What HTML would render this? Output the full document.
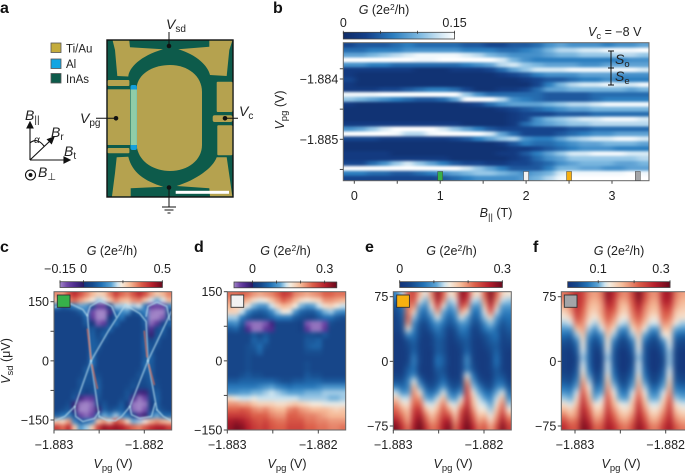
<!DOCTYPE html>
<html lang="en">
<head>
<meta charset="utf-8">
<title>Conductance maps</title>
<style>
html,body{margin:0;padding:0;background:#fff;width:685px;height:473px;overflow:hidden}
svg{display:block}
text{font-family:"Liberation Sans",sans-serif;fill:#222;font-size:12.5px}
.pl{font-weight:bold;font-size:16px;fill:#111}
.i{font-style:italic}
</style>
</head>
<body>
<svg id="fig" xmlns="http://www.w3.org/2000/svg" width="685" height="473" viewBox="0 0 685 473">
<defs>
<filter id="blurHeat" filterUnits="userSpaceOnUse" x="-20" y="-20" width="725" height="513" color-interpolation-filters="sRGB"><feGaussianBlur stdDeviation="2.9"/></filter>
<filter id="blurHeatC" filterUnits="userSpaceOnUse" x="-20" y="-20" width="725" height="513" color-interpolation-filters="sRGB"><feGaussianBlur stdDeviation="2.1"/></filter>
<filter id="blurBand" filterUnits="userSpaceOnUse" x="-20" y="-20" width="725" height="513" color-interpolation-filters="sRGB"><feGaussianBlur stdDeviation="3.5 1.4"/></filter>
<filter id="blurLine" filterUnits="userSpaceOnUse" x="-20" y="-20" width="725" height="513" color-interpolation-filters="sRGB"><feGaussianBlur stdDeviation="0.7"/></filter>
</defs>

<text class="pl" x="0" y="13">a</text>
<text class="pl" x="273" y="13">b</text>
<text class="pl" x="0" y="252">c</text>
<text class="pl" x="194" y="252">d</text>
<text class="pl" x="365" y="252">e</text>
<text class="pl" x="533" y="252">f</text>

<!-- panel a: device -->
<g>
<rect x="107" y="40" width="126" height="157" fill="#0d5b4b" stroke="#111" stroke-width="1.4"/>
<g fill="#b5a24f">
<path d="M112.700,40.700 L129.300,40.700 L130,47.300 L163,49.300 C140,56 129,68 128.300,76.500 L117.300,76 L115,50 Z"/>
<path d="M232.300,40.700 L209.300,40.700 L209.300,46.700 L178.300,49.300 C197,55 208,66 210,75 L226.700,76 L229.300,50 Z"/>
<path d="M116.700,157.300 L128.300,156.700 C132,172 144,181 163.300,186.700 L130.700,188.300 L130.700,196.300 L112,196.300 L115,173 Z"/>
<path d="M232.300,196.300 L210,196.300 L209.300,188.300 L176.700,186 C196,180 213,168 216.700,157.300 L226.700,157.300 L230,180 Z"/>
<path d="M137,85 C140,72 155,65 170,65 C188,65 202,76 202,92 L202,145 C202,160 188,171 170,171 C155,171 140,163 137,148 Z"/>
<rect x="107.700" y="80" width="21.700" height="6" rx="1"/>
<rect x="107.700" y="148" width="21.700" height="5.300" rx="1"/>
<rect x="107.700" y="89.300" width="22.300" height="55.700"/>
<rect x="216.700" y="81.700" width="15.700" height="30.300" rx="1"/>
<rect x="217.300" y="125.300" width="15" height="30" rx="1"/>
<rect x="212.700" y="115.300" width="19.700" height="6.700" rx="2"/>
</g>
<rect x="130.500" y="85" width="6.400" height="65" rx="2" fill="#14a0dc"/>
<rect x="130.500" y="89.500" width="6.400" height="55.500" fill="#8fcda8"/>
<rect x="175.700" y="190.800" width="53.300" height="3" fill="#fff"/>
<g stroke="#111" stroke-width="1" fill="none">
<path d="M169,32 V46 M169,187 V207 M162,207 H176 M164.500,210 H173.500 M167.500,213 H170.500 M96,118.300 H116 M225,118.300 H238"/>
</g>
<circle cx="169" cy="46" r="2.300" fill="#111"/>
<circle cx="169" cy="187.500" r="2.300" fill="#111"/>
<circle cx="116" cy="118.300" r="2.300" fill="#111"/>
<circle cx="225" cy="118.300" r="2.300" fill="#111"/>
<text x="166" y="29" font-size="14"><tspan class="i" style="font-size:14px">V</tspan><tspan dy="3" style="font-size:10px">sd</tspan></text>
<text x="80" y="123"><tspan class="i" style="font-size:14px">V</tspan><tspan dy="3" style="font-size:10px">pg</tspan></text>
<text x="239" y="116"><tspan class="i" style="font-size:14px">V</tspan><tspan dy="3" style="font-size:10px">c</tspan></text>
</g>
<g>
<rect x="51" y="43" width="10" height="9.500" fill="#c4ac3c" stroke="#555" stroke-width=".8"/>
<rect x="51" y="59" width="10" height="9.500" fill="#12a5e2" stroke="#555" stroke-width=".8"/>
<rect x="51" y="73.500" width="10" height="9.500" fill="#0d5b4b" stroke="#555" stroke-width=".8"/>
<text x="66" y="52.500" style="font-size:11.500px">Ti/Au</text>
<text x="66" y="68" style="font-size:11.500px">Al</text>
<text x="66" y="83" style="font-size:11.500px">InAs</text>
</g>
<g stroke="#111" stroke-width="1.100" fill="none">
<path d="M30,160 V127 M30,160 H65 M30,160 L51,140 M30,143 Q37,137 44,146"/>
<path d="M30,122 L27,128 H33 Z M70,160 L64,157 V163 Z M54,137 L47.500,139.500 L51.500,143.500 Z" fill="#111"/>
<circle cx="30.500" cy="175" r="5" stroke-width="1.100"/>
<circle cx="30.500" cy="175" r="1.400" fill="#111"/>
</g>
<text x="25" y="120"><tspan class="i" style="font-size:14px">B</tspan><tspan dy="3" style="font-size:10px">||</tspan></text>
<text x="51" y="137"><tspan class="i" style="font-size:14px">B</tspan><tspan dy="3" style="font-size:10px">r</tspan></text>
<text x="64" y="156"><tspan class="i" style="font-size:14px">B</tspan><tspan dy="3" style="font-size:10px">t</tspan></text>
<text x="38" y="177"><tspan class="i" style="font-size:14px">B</tspan><tspan dy="3" style="font-size:10px">⊥</tspan></text>
<text x="34" y="143" class="i" style="font-size:10px">α</text>

<!-- titles -->
<text x="384" y="14" text-anchor="middle"><tspan class="i">G</tspan> (2e<tspan dy="-4" style="font-size:8.500px">2</tspan><tspan dy="4">/h)</tspan></text>
<text x="112" y="255" text-anchor="middle"><tspan class="i">G</tspan> (2e<tspan dy="-4" style="font-size:8.500px">2</tspan><tspan dy="4">/h)</tspan></text>
<text x="285.500" y="255" text-anchor="middle"><tspan class="i">G</tspan> (2e<tspan dy="-4" style="font-size:8.500px">2</tspan><tspan dy="4">/h)</tspan></text>
<text x="451.500" y="255" text-anchor="middle"><tspan class="i">G</tspan> (2e<tspan dy="-4" style="font-size:8.500px">2</tspan><tspan dy="4">/h)</tspan></text>
<text x="619" y="255" text-anchor="middle"><tspan class="i">G</tspan> (2e<tspan dy="-4" style="font-size:8.500px">2</tspan><tspan dy="4">/h)</tspan></text>

<text x="588" y="36"><tspan class="i">V</tspan><tspan dy="3" style="font-size:9.500px">c</tspan><tspan dy="-3"> = −8 V</tspan></text>
<text x="496" y="217" text-anchor="middle"><tspan class="i">B</tspan><tspan dy="3" style="font-size:9.500px">||</tspan><tspan dy="-3"> (T)</tspan></text>
<text transform="translate(284,110) rotate(-90)" text-anchor="middle"><tspan class="i">V</tspan><tspan dy="3" style="font-size:9.500px">pg</tspan><tspan dy="-3"> (V)</tspan></text>
<text transform="translate(10,361) rotate(-90)" text-anchor="middle"><tspan class="i">V</tspan><tspan dy="3" style="font-size:9.500px">sd</tspan><tspan dy="-3"> (μV)</tspan></text>
<text x="113" y="468" text-anchor="middle"><tspan class="i">V</tspan><tspan dy="3" style="font-size:9.500px">pg</tspan><tspan dy="-3"> (V)</tspan></text>
<text x="287" y="468" text-anchor="middle"><tspan class="i">V</tspan><tspan dy="3" style="font-size:9.500px">pg</tspan><tspan dy="-3"> (V)</tspan></text>
<text x="453" y="468" text-anchor="middle"><tspan class="i">V</tspan><tspan dy="3" style="font-size:9.500px">pg</tspan><tspan dy="-3"> (V)</tspan></text>
<text x="621" y="468" text-anchor="middle"><tspan class="i">V</tspan><tspan dy="3" style="font-size:9.500px">pg</tspan><tspan dy="-3"> (V)</tspan></text>
<g id="layer"></g>
</svg>
<script>
// ---- data (G in units of 0.01 x 2e^2/h) ----
const gridB = [
[3,4,4,4,5,6,5,5,5,5,4,4,3,3,4,4,5,7,8,7,7,7,6,7,7,8],
[5,5,6,6,6,7,7,7,7,7,6,6,6,5,5,6,7,9,11,11,12,12,13,13,13,14],
[8,8,9,10,11,12,13,13,13,13,12,11,9,8,7,7,7,8,9,9,10,10,10,11,11,10],
[15,15,15,15,15,14,13,13,14,14,15,15,14,12,9,7,6,6,6,6,6,6,6,6,7,7],
[7,7,6,6,5,5,5,5,5,5,6,7,8,11,12,10,9,8,8,8,7,7,8,8,8,8],
[2,2,2,2,2,2,1,1,1,2,2,2,3,5,8,10,12,12,12,13,13,13,13,13,13,12],
[2,1,1,1,1,1,1,1,1,1,1,1,1,2,3,4,6,7,7,7,8,8,8,7,7,7],
[3,1,1,1,1,1,1,1,1,1,1,1,1,1,1,2,3,4,4,5,6,6,7,6,6,6],
[2,1,1,1,1,1,1,1,1,1,1,1,1,1,1,1,3,6,9,11,12,12,13,12,12,13],
[2,2,2,3,3,4,5,6,6,5,3,1,1,2,2,3,5,8,8,9,9,9,9,9,8,9],
[13,13,13,14,14,14,15,15,15,14,10,7,5,5,5,5,5,4,4,4,4,5,5,5,5,5],
[10,9,8,7,6,5,4,4,5,8,14,15,14,11,7,6,5,4,4,4,4,5,6,6,6,6],
[2,1,1,1,1,1,1,1,1,1,2,3,5,7,8,8,8,9,10,11,11,12,13,13,13,13],
[1,1,1,1,1,1,1,1,1,1,1,1,1,2,3,4,5,6,7,8,8,9,9,9,9,9],
[1,1,1,1,1,1,1,1,1,1,1,1,1,1,2,3,3,3,4,4,4,5,5,5,5,5],
[1,1,1,1,1,1,1,1,1,1,1,1,1,1,2,3,7,9,10,11,12,12,13,13,13,12],
[2,2,2,2,2,2,2,2,2,2,1,1,1,1,2,5,7,8,9,10,10,11,11,11,11,11],
[7,8,10,12,14,15,15,14,12,10,8,6,4,3,3,3,3,3,3,4,4,5,5,5,5,5],
[15,15,15,14,13,11,11,13,15,15,15,14,12,8,5,3,3,3,4,5,6,7,7,8,8,8],
[3,3,3,2,2,2,2,2,2,3,4,6,8,10,11,7,6,6,8,10,11,12,12,13,13,12],
[1,1,1,1,1,1,1,1,1,1,1,1,1,2,4,6,5,5,6,7,8,8,9,9,9,8],
[1,1,1,1,1,1,1,1,1,1,1,1,1,1,2,2,3,4,5,6,7,7,7,6,6,6],
[2,2,2,2,1,1,1,1,1,1,1,1,1,2,2,4,6,8,10,12,12,13,13,13,12,12],
[2,2,2,2,2,2,2,2,2,1,1,1,1,1,2,3,5,7,8,10,10,10,10,10,10,11],
[3,3,5,7,10,12,10,8,6,4,3,3,2,2,3,3,4,5,7,8,9,9,9,8,8,9],
[14,15,15,15,15,14,14,15,15,14,12,10,8,6,4,4,4,6,9,9,8,8,7,7,8,8],
[6,6,5,5,4,4,5,6,7,8,9,10,10,9,8,7,8,9,12,13,13,13,13,13,14,13],
[3,3,3,3,3,3,3,3,4,5,6,7,7,7,7,8,9,11,13,14,14,14,14,14,14,14]
];
const gridC = [
[33,32,38,42,38,34,30,27,28,34,40,36,34,38,42,38,32,28,30,34],
[29,30,33,36,32,28,24,20,22,28,34,30,29,33,34,28,22,18,22,30],
[14,8,10,14,18,16,6,-8,-8,4,20,20,22,20,22,12,-8,-10,-8,14],
[4,4,4,5,8,14,-10,-15,-15,-4,10,14,16,6,10,14,-14,-15,-15,2],
[4,4,4,4,4,10,-8,-15,-15,0,8,12,4,4,4,10,-15,-15,-12,6],
[4,4,4,4,4,8,0,-12,-8,6,11,4,4,4,4,8,-13,-8,4,9],
[4,4,4,4,4,4,8,4,6,10,4,4,4,4,4,7,-6,5,9,4],
[4,4,4,4,4,4,9,5,9,4,4,4,4,4,4,8,-2,7,7,4],
[4,4,4,4,4,4,9,7,6,4,4,4,4,4,4,9,5,8,4,4],
[4,4,4,4,4,4,9,8,4,4,4,4,4,4,4,9,7,6,4,4],
[4,4,4,4,4,4,10,5,4,4,4,4,4,4,4,8,8,4,4,4],
[4,4,4,4,4,4,12,4,4,4,4,4,4,4,4,8,9,4,4,4],
[4,4,4,4,4,5,12,4,4,4,4,4,4,4,4,10,8,4,4,4],
[4,4,4,4,4,8,8,4,4,4,4,4,4,4,5,9,8,4,4,4],
[4,4,4,4,5,7,7,6,4,4,4,4,4,4,7,7,8,4,4,4],
[4,4,4,4,7,7,7,8,4,4,4,4,4,6,6,6,8,5,4,4],
[4,4,4,4,7,6,6,9,4,4,4,4,5,7,5,5,7,6,4,4],
[4,4,4,6,7,3,6,8,4,4,4,4,7,4,-4,-3,6,8,4,4],
[4,4,4,8,-4,-10,-8,7,4,4,4,5,7,-5,-14,-10,4,9,4,4],
[4,4,6,-2,-14,-15,-13,3,7,4,4,8,1,-14,-15,-14,1,8,4,4],
[4,6,8,-3,-15,-15,-12,-2,9,6,8,9,4,-13,-15,-11,4,9,6,4],
[9,12,14,6,-10,-13,-9,9,18,14,20,14,12,2,-6,-2,12,18,10,10],
[28,26,32,14,8,9,14,28,32,27,38,34,26,18,20,24,30,33,30,28],
[40,36,42,28,16,20,28,40,46,44,46,44,40,36,34,38,42,44,44,40]
];
const gridD = [
[24,24,25,24,22,21,22,23,25,28,27,23,22,21,22,23,25,25,24,24],
[22,21,22,20,17,15,16,19,22,25,23,20,17,16,17,18,22,22,21,20],
[20,18,18,15,12,10,10,14,18,20,19,16,12,10,11,14,17,18,16,14],
[18,18,14,9,6,5,6,9,13,16,15,10,6,5,5,8,12,13,10,9],
[13,13,8,5,3,3,4,6,8,8,8,5,4,3,3,5,7,7,5,4],
[9,10,5,-6,-7,-7,-6,-2,3,3,3,3,2,-6,-7,-7,-5,4,3,3],
[5,6,3,-3,-7,-7,-4,-3,3,3,3,3,2,-4,-7,-7,-4,3,3,3],
[3,3,3,3,5,3,5,3,3,3,3,3,3,4,4,3,5,3,3,3],
[3,3,3,3,6,5,6,3,3,3,3,3,3,5,5,6,3,3,3,3],
[3,3,3,4,5,7,4,3,3,3,3,3,3,5,6,6,3,3,3,3],
[3,3,3,4,4,6,3,3,3,3,3,3,3,4,4,4,3,3,3,3],
[3,3,3,4,3,3,3,3,3,3,3,3,3,3,3,3,3,3,3,3],
[3,3,3,4,3,3,3,3,3,3,3,3,3,4,3,3,3,3,3,3],
[3,3,3,4,3,3,3,3,3,3,3,3,3,4,3,3,3,3,3,3],
[3,3,4,5,4,4,3,3,3,3,3,3,3,5,4,4,3,3,3,3],
[5,5,6,6,6,6,6,6,5,4,4,5,5,6,6,6,5,5,5,5],
[8,8,8,8,8,9,10,11,9,8,7,8,8,8,8,9,10,10,10,10],
[10,10,11,11,12,12,13,14,13,12,11,11,11,12,12,12,13,13,13,13],
[17,15,14,14,15,14,14,14,14,14,14,14,13,13,13,13,13,12,12,13],
[22,22,21,21,19,18,18,18,17,17,18,19,18,17,16,16,15,15,15,15],
[25,25,26,25,23,22,23,21,20,20,23,24,22,21,20,20,20,19,18,19],
[28,28,28,27,25,25,25,23,22,22,25,25,24,23,23,22,21,20,20,20],
[31,32,31,29,27,26,27,25,24,24,26,26,26,24,24,23,23,22,22,22],
[32,34,33,30,28,27,28,26,25,25,27,27,27,25,25,24,24,23,23,24]
];
const gridE = [
[8,13,22,24,18,14,20,28,22,15,17,28,26,17,15,22,29,22,16,15],
[6,10,22,23,15,11,18,27,20,12,14,27,24,13,12,20,28,20,13,12],
[4,7,21,20,11,8,15,24,15,9,12,24,20,10,9,17,26,17,10,10],
[3,6,21,16,8,6,12,19,11,7,10,19,15,7,7,14,22,13,8,8],
[2,5,22,12,6,5,9,14,9,5,8,14,11,5,6,12,16,10,6,7],
[2,4,20,9,4,3,7,10,7,4,6,10,9,4,4,9,12,8,4,6],
[2,3,15,8,3,2,5,8,5,2,4,8,7,2,3,7,9,6,3,5],
[1,2,9,7,3,1,3,6,5,1,3,6,6,2,2,4,6,7,2,4],
[1,1,4,6,2,1,2,5,4,1,2,4,5,2,1,3,5,6,2,3],
[1,1,3,5,2,1,2,5,4,1,1,3,5,2,1,2,4,5,2,2],
[1,1,2,6,2,1,1,5,4,1,1,2,6,2,1,1,3,6,2,1],
[1,1,2,8,2,1,1,7,5,1,1,2,9,2,1,1,2,7,2,1],
[1,1,3,8,2,1,1,7,5,1,1,2,9,3,1,1,2,7,2,1],
[1,1,5,7,1,1,1,5,4,1,1,2,8,4,1,1,2,5,2,1],
[2,2,6,9,3,1,1,4,5,1,1,2,14,7,2,1,1,5,4,1],
[4,4,8,14,7,2,2,4,7,3,2,3,19,10,4,2,2,6,6,2],
[8,6,8,18,11,5,3,6,10,5,3,6,22,12,8,4,3,8,9,4],
[13,9,10,20,15,8,6,9,14,8,6,10,24,15,11,7,6,11,14,6],
[17,13,13,21,19,11,9,13,18,11,9,14,25,17,13,10,8,13,18,9],
[20,16,15,22,22,14,13,16,21,15,13,18,26,18,14,13,10,15,21,12],
[22,19,17,24,25,18,15,18,23,19,15,22,27,20,15,15,12,17,23,15],
[24,21,18,25,27,21,17,20,24,23,17,24,28,22,17,18,14,19,25,19],
[27,23,19,26,29,23,19,21,26,27,19,25,29,24,19,21,16,21,27,22],
[29,25,21,27,30,25,21,22,27,29,21,26,30,26,21,23,19,23,29,24]
];
const gridF = [
[20,22,25,23,19,18,20,28,25,20,19,23,29,23,19,19,26,27,20,18],
[19,21,25,23,18,17,19,27,24,18,18,22,28,22,18,18,26,26,19,17],
[17,19,25,22,17,16,18,25,23,17,16,21,26,20,17,17,24,24,18,16],
[15,18,24,21,16,15,18,23,21,16,15,20,24,19,16,16,22,22,16,15],
[13,15,23,20,15,13,17,22,19,14,13,19,22,18,14,14,21,20,15,14],
[11,12,20,19,13,11,15,20,17,12,11,17,20,16,12,12,19,18,13,11],
[9,9,16,18,11,8,12,18,14,9,8,14,18,13,9,9,16,16,10,9],
[7,6,11,16,9,6,9,16,11,6,6,11,16,10,6,6,13,14,7,6],
[5,4,8,14,7,4,7,14,8,4,4,8,14,7,4,4,9,13,5,4],
[4,3,6,13,6,3,5,13,6,3,3,6,13,5,3,3,6,12,4,3],
[3,2,5,12,6,2,4,12,5,2,2,5,12,5,2,2,5,11,3,2],
[3,2,4,11,6,2,3,11,5,2,2,4,11,5,2,2,4,11,3,2],
[3,2,4,12,6,2,3,12,5,2,2,4,12,5,2,2,4,11,3,2],
[3,2,5,13,7,2,4,12,6,2,2,5,12,6,2,2,5,12,3,2],
[4,3,6,15,9,3,5,14,7,3,3,6,14,7,3,3,6,13,4,3],
[5,4,8,18,11,4,6,16,9,4,4,8,16,9,4,4,8,15,5,4],
[7,6,10,20,13,6,8,18,11,6,5,10,18,11,6,6,10,17,7,6],
[9,8,12,22,15,8,10,20,13,8,7,12,20,13,8,8,12,19,9,8],
[11,10,14,24,17,10,12,22,15,10,9,14,22,15,10,10,14,21,11,10],
[14,12,16,25,19,13,14,23,17,13,12,16,24,17,12,12,16,23,14,12],
[17,15,18,26,21,15,16,24,19,15,14,17,25,19,14,14,18,24,16,14],
[20,17,19,27,23,17,18,25,21,17,16,19,26,21,16,16,20,25,18,16],
[23,20,21,28,25,19,20,26,23,19,18,21,27,23,18,18,22,26,20,18],
[25,22,22,29,27,21,22,27,25,21,20,23,28,25,20,20,24,27,22,20]
];
// charge-transition lines in panel c, [Vpg (V), Vsd (uV)]
const linesCBlue = [
[[-1.88263,117],[-1.88259,0]],
[[-1.88259,0],[-1.88250,-141]],
[[-1.88259,0],[-1.88240,75],[-1.88221,142]],
[[-1.88259,0],[-1.88277,-116]],
[[-1.88221,142],[-1.88205,120],[-1.88198,100],[-1.88196,0]],
[[-1.88196,0],[-1.88186,-124]],
[[-1.88196,0],[-1.88170,125]],
[[-1.88196,0],[-1.88216,-116]],
[[-1.88299,136],[-1.88282,145],[-1.88268,130],[-1.88263,114]],
[[-1.88277,-116],[-1.88288,-141],[-1.88299,-152]],
[[-1.88250,-141],[-1.88242,-150],[-1.88232,-152],[-1.88225,-141],[-1.88216,-116]],
[[-1.88186,-124],[-1.88179,-141],[-1.88170,-152]],
[[-1.88198,113],[-1.88196,138],[-1.88186,149],[-1.88175,138],[-1.88172,104]],
[[-1.88263,117],[-1.88260,138],[-1.88249,153],[-1.88236,138],[-1.88231,111]],
[[-1.88277,-116],[-1.88276,-141],[-1.88268,-154],[-1.88255,-146],[-1.88250,-129]],
[[-1.88216,-116],[-1.88214,-137],[-1.88205,-146],[-1.88192,-141],[-1.88188,-108]]
];
const linesCHot = [
[[-1.88263,80],[-1.88259,5]],
[[-1.88258,-10],[-1.88252,-70]],
[[-1.88200,75],[-1.88197,10]],
[[-1.88195,-10],[-1.88189,-60]]
];
const fieldTicks = [0,0.5,1,1.5,2,2.5,3];
const fieldLabels = ['0','','1','','2','','3'];
const gateTicksB = [-1.88383,-1.884,-1.8845,-1.885,-1.8855];
const gateLabelsB = ['','−1.884','','−1.885',''];
const markerFields = [1,2,2.5,3.3];
const markerColors = ['#37b04a','#f2f2f2','#f7b010','#a3a5a8'];
const vpgTicks = [-1.883,-1.8825,-1.882];
const vpgLabels = ['−1.883','','−1.882'];
const vsdTicksWide = [150,75,0,-75,-150];
const vsdLabelsWide = ['150','','0','','−150'];
const vsdTicksNarrow = [75,0,-75];
const vsdLabelsNarrow = ['75','0','−75'];
const cbTicksB = [0,0.05,0.1,0.15];
const cbLabelsB = ['0','','','0.15'];
const cbTicksC = [-0.15,0,0.25,0.5];
const cbLabelsC = ['−0.15','0','','0.5'];
const cbTicksD = [0,0.1,0.2,0.3];
const cbLabelsD = ['0','','','0.3'];
const cbTicksE = [0,0.1,0.2,0.3];
const cbLabelsE = ['0','','','0.3'];
const cbTicksF = [0.1,0.2,0.3];
const cbLabelsF = ['0.1','','0.3'];

// ---- helpers ----
const NS='http://www.w3.org/2000/svg';
const layer=document.getElementById('layer');
function mk(tag,attrs,parent){
  const e=document.createElementNS(NS,tag);
  for(const k in attrs)e.setAttribute(k,attrs[k]);
  (parent||layer).appendChild(e);
  return e;
}
function hex(c){return [parseInt(c.slice(1,3),16),parseInt(c.slice(3,5),16),parseInt(c.slice(5,7),16)];}
function ramp(stops,t){
  t=Math.max(0,Math.min(1,t));
  for(let i=1;i<stops.length;i++){
    if(t<=stops[i][0]){
      const a=stops[i-1],b=stops[i],f=(t-a[0])/(b[0]-a[0]);
      const A=hex(a[1]),B=hex(b[1]);
      return 'rgb('+A.map((v,j)=>Math.round(v+(B[j]-v)*f)).join(',')+')';
    }
  }
  return stops[stops.length-1][1];
}
const divergingStops=[[0,'#15347a'],[.12,'#174a8c'],[.25,'#2272b6'],[.38,'#5ba3d4'],[.47,'#cfe5f0'],[.52,'#f5ecdf'],[.62,'#f6bd9a'],[.75,'#dc5f4a'],[.88,'#b51f2c'],[1,'#6a0a1e']];
const purpleStops=[[0,'#2a1a62'],[.35,'#4b2a8a'],[.7,'#6f46a6'],[1,'#a286c8']];
const bandStops=[[0,'#0f2c68'],[.2,'#143f88'],[.45,'#2d7fc0'],[.7,'#84bde3'],[.88,'#d4e8f4'],[1,'#ffffff']];
function colorDiv(vmax,vmin,white){
  const v0=vmin>0?vmin:0;
  return g=>{
    if(g<0)return ramp(purpleStops,g/vmin);
    const t=g<white?0.5*(g-v0)/(white-v0):0.5+0.5*(g-white)/(vmax-white);
    return ramp(divergingStops,t);
  };
}
const colorB=g=>ramp(bandStops,g/13.5);
function linear(d0,d1,r0,r1){return v=>r0+(v-d0)*(r1-r0)/(d1-d0);}

function heatmap(name,grid,x,y,w,h,color,filter){
  const clip=mk('clipPath',{id:'clip-'+name});
  mk('rect',{x:x,y:y,width:w,height:h},clip);
  const outer=mk('g',{'clip-path':'url(#clip-'+name+')'});
  
  
  const g=mk('g',{filter:'url(#'+filter+')'},outer);
  const R=grid.length,C=grid[0].length,cw=w/C,ch=h/R,pad=12;
  grid.forEach((row,j)=>row.forEach((val,i)=>{
    const x0=x+i*cw-(i===0?pad:0),x1=x+(i+1)*cw+(i===C-1?pad:0.4);
    const y0=y+j*ch-(j===0?pad:0),y1=y+(j+1)*ch+(j===R-1?pad:0.4);
    const r=mk('rect',{x:x0.toFixed(2),y:y0.toFixed(2),width:(x1-x0).toFixed(2),height:(y1-y0).toFixed(2),fill:color(val)},g);
    
    
  }));
  return outer;
}
function frame(name,x,y,w,h){
  const r=mk('rect',{x:x,y:y,width:w,height:h,fill:'none',stroke:'#666','stroke-width':1});
  
  
}
function xAxis(name,ticks,labels,sx,yBase,len,labelY){
  ticks.forEach((v,i)=>{
    const px=sx(v);
    const t=mk('line',{x1:px,x2:px,y1:yBase,y2:yBase+len,stroke:'#444','stroke-width':1});
    
    
    if(labels[i]){
      const l=mk('text',{x:px,y:labelY,'text-anchor':'middle'});
      l.textContent=labels[i];
      
      
    }
  });
}
function yAxis(name,ticks,labels,sy,xBase,len){
  ticks.forEach((v,i)=>{
    const py=sy(v);
    const t=mk('line',{x1:xBase-len,x2:xBase,y1:py,y2:py,stroke:'#444','stroke-width':1});
    
    
    if(labels[i]){
      const l=mk('text',{x:xBase-len-1.5,y:py+4.5,'text-anchor':'end'});
      l.textContent=labels[i];
      
      
    }
  });
}
function colorbar(name,x,y,w,h,vmin,vmax,color,ticks,labels,labelY,labelX){
  const g=mk('g',{});
  
  
  const n=Math.round(w);
  for(let i=0;i<n;i++){
    mk('rect',{x:x+i*w/n,y:y,width:w/n+.4,height:h,fill:color(vmin+(vmax-vmin)*(i+.5)/n)},g);
  }
  mk('rect',{x:x,y:y,width:w,height:h,fill:'none',stroke:'#444','stroke-width':.8},g);
  const s=linear(vmin,vmax,x,x+w);
  ticks.forEach((v,i)=>{
    const px=s(v);
    mk('line',{x1:px,x2:px,y1:y-1.5,y2:y+1.5,stroke:'#333','stroke-width':.8},g);
    if(labels[i]){
      const l=mk('text',{x:labelX&&labelX[i]!=null?labelX[i]:px,y:labelY,'text-anchor':'middle'});
      l.textContent=labels[i];
      
      
    }
  });
}
function badge(name,x,y,fill){
  const r=mk('rect',{x:x,y:y,width:12.7,height:12.3,fill:fill,stroke:'#333','stroke-width':.9});
  
  
}

// ---- panel b ----
heatmap('b',gridB,343.3,42.7,305.7,138,colorB,'blurBand');
frame('plot-frame-b',343.3,42.7,305.7,138);
const sxB=linear(0,3,354.3,612);
const syB=linear(-1.884,-1.885,79,139.3);
xAxis('x-axis-b',fieldTicks,fieldLabels,sxB,180.7,3,200);
yAxis('y-axis-b',gateTicksB,gateLabelsB,syB,343.3,3.5);
markerFields.forEach((f,i)=>{
  const m=mk('rect',{x:sxB(f)-2.5,y:171.5,width:5,height:9,fill:markerColors[i],stroke:'#444','stroke-width':.5});
  
  
});
const ann=mk('path',{d:'M608,51 H614 M611,51 V85 M608,68 H614 M608,85 H614',stroke:'#111','stroke-width':1,fill:'none'});


[['S','o',615,64],['S','e',615,81]].forEach(a=>{
  const t=mk('text',{x:a[2],y:a[3],style:'font-size:14px'});
  
  
  const s1=mk('tspan',{class:'i'},t);s1.textContent=a[0];
  const s2=mk('tspan',{dy:3,style:'font-size:9.5px'},t);s2.textContent=a[1];
});
colorbar('b',343.3,32.3,111.3,6.7,0,0.15,v=>colorB(v*100*0.9),cbTicksB,cbLabelsB,27,[343.3,null,null,454.6]);

// ---- panel c ----
const sxC=linear(-1.883,-1.882,54,144.3);
const syC=linear(150,-150,301.7,420);
const colC=colorDiv(50,-15,23);
const hc=heatmap('c',gridC,54,291.7,117.7,138.3,colC,'blurHeatC');
function polyline(data,sx,sy,stroke,width,parent,name){
  const pts=data.map(p=>sx(p[0]).toFixed(2)+','+sy(p[1]).toFixed(2)).join(' ');
  const l=mk('polyline',{points:pts,fill:'none',stroke:stroke,'stroke-width':width,'stroke-linecap':'round','stroke-linejoin':'round','stroke-opacity':.75,filter:'url(#blurLine)'},parent);
  
  
}
linesCBlue.forEach(l=>polyline(l,sxC,syC,'#b0d8ec',1.5,hc,'transition-line'));
linesCHot.forEach(l=>polyline(l,sxC,syC,'#e56a50',1.5,hc,'transition-line-hot'));
frame('plot-frame-c',54,291.7,117.7,138.3);
xAxis('x-axis-c',vpgTicks,vpgLabels,sxC,430,3.5,449);
yAxis('y-axis-c',vsdTicksWide,vsdLabelsWide,syC,54,3.5);
badge('badge-green',57.3,295,markerColors[0]);
colorbar('c',60,281.7,102.3,5.8,-0.15,0.5,v=>colC(v*100),cbTicksC,cbLabelsC,273);

// ---- panel d ----
const sxD=linear(-1.883,-1.882,227.3,318.3);
const syD=linear(150,-150,291.7,430);
const colD=colorDiv(35,-7.7,15);
heatmap('d',gridD,227.3,291.7,118.4,138.3,colD,'blurHeatC');
frame('plot-frame-d',227.3,291.7,118.4,138.3);
xAxis('x-axis-d',vpgTicks,vpgLabels,sxD,430,3.5,449);
yAxis('y-axis-d',vsdTicksWide,vsdLabelsWide,syD,227.3,3.5);
badge('badge-white',231,295,markerColors[1]);
colorbar('d',234,282,102.7,5.8,-0.077,0.35,v=>colD(v*100),cbTicksD,cbLabelsD,273);

// ---- panel e ----
const sxE=linear(-1.883,-1.882,393.3,484);
const syE=linear(75,-75,296.7,426);
const colE=colorDiv(30,0.001,14);
heatmap('e',gridE,393.3,291.7,118,138.3,colE,'blurHeat');
frame('plot-frame-e',393.3,291.7,118,138.3);
xAxis('x-axis-e',vpgTicks,vpgLabels,sxE,430,3.5,449);
yAxis('y-axis-e',vsdTicksNarrow,vsdLabelsNarrow,syE,393.3,3.5);
badge('badge-orange',396.7,295,markerColors[2]);
colorbar('e',399.7,281.7,102.6,5.8,0,0.3,v=>colE(v*100),cbTicksE,cbLabelsE,273,[399.7,null,null,502.3]);

// ---- panel f ----
const sxF=linear(-1.883,-1.882,575,665.7);
const syF=linear(75,-75,296.7,426);
const colF=colorDiv(30,1.5,12.5);
heatmap('f',gridF,561.3,291.7,123.7,138.3,colF,'blurHeat');
frame('plot-frame-f',561.3,291.7,126,138.3);
xAxis('x-axis-f',vpgTicks,vpgLabels,sxF,430,3.5,449);
yAxis('y-axis-f',vsdTicksNarrow,vsdLabelsNarrow,syF,561.3,3.5);
badge('badge-grey',564.3,295,markerColors[3]);
colorbar('f',567.7,281.7,102.3,5.8,0.015,0.3,v=>colF(v*100),cbTicksF,cbLabelsF,273,[null,null,661]);
</script>
</body>
</html>
